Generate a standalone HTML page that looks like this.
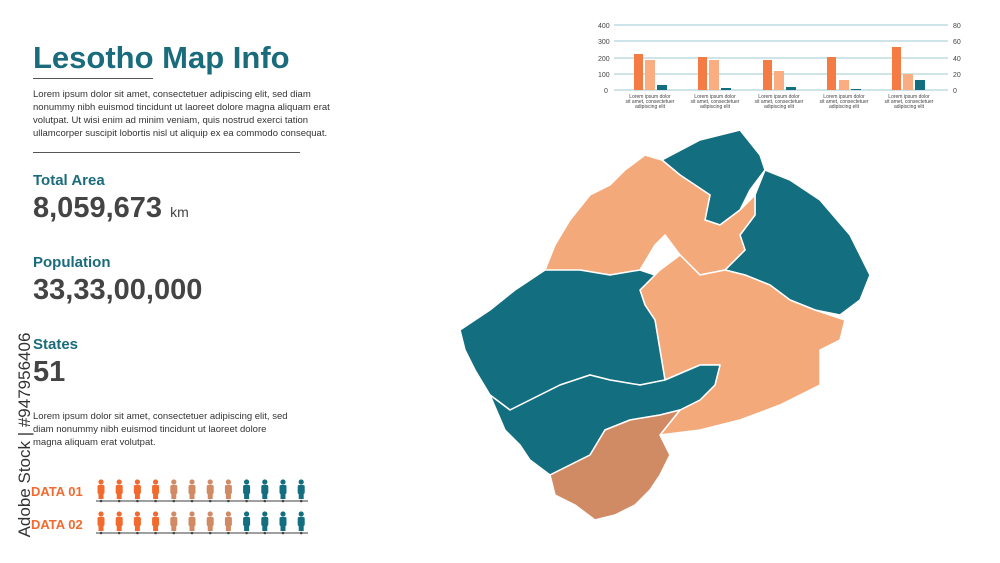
<!DOCTYPE html>
<html><head><style>
body{margin:0;width:1000px;height:563px;background:#fff;position:relative;overflow:hidden;font-family:"Liberation Sans",sans-serif;color:#333}
.a{position:absolute;margin:0}
</style></head><body>
<div class="a" style="left:33px;top:40px;font-size:31px;font-weight:bold;color:#1a6c7c">Lesotho Map Info</div>
<div class="a" style="left:33px;top:78px;width:120px;border-top:1px solid #555"></div>
<div class="a" style="left:33px;top:88px;width:300px;font-size:9.5px;line-height:13px;color:#333">Lorem ipsum dolor sit amet, consectetuer adipiscing elit, sed diam nonummy nibh euismod tincidunt ut laoreet dolore magna aliquam erat volutpat. Ut wisi enim ad minim veniam, quis nostrud exerci tation ullamcorper suscipit lobortis nisl ut aliquip ex ea commodo consequat.</div>
<div class="a" style="left:33px;top:152px;width:267px;border-top:1px solid #555"></div>
<div class="a" style="left:33px;top:172px;font-size:15px;font-weight:bold;color:#1a6c7c">Total Area</div>
<div class="a" style="left:33px;top:192px;font-size:29px;font-weight:bold;color:#444">8,059,673 <span style="font-size:14px;font-weight:normal">km</span></div>
<div class="a" style="left:33px;top:254px;font-size:15px;font-weight:bold;color:#1a6c7c">Population</div>
<div class="a" style="left:33px;top:274px;font-size:29px;font-weight:bold;color:#444">33,33,00,000</div>
<div class="a" style="left:33px;top:336px;font-size:15px;font-weight:bold;color:#1a6c7c">States</div>
<div class="a" style="left:33px;top:356px;font-size:29px;font-weight:bold;color:#444">51</div>
<div class="a" style="left:33px;top:410px;width:260px;font-size:9.5px;line-height:13px">Lorem ipsum dolor sit amet, consectetuer adipiscing elit, sed diam nonummy nibh euismod tincidunt ut laoreet dolore magna aliquam erat volutpat.</div>
<div class="a" style="left:31px;top:484px;font-size:13px;font-weight:bold;color:#f26a2e">DATA 01</div>
<div class="a" style="left:31px;top:517px;font-size:13px;font-weight:bold;color:#f26a2e">DATA 02</div>
<div class="a" style="left:-95px;top:425px;width:240px;transform:rotate(-90deg);font-size:17px;color:#333;text-align:center">Adobe Stock | #947956406</div>
<svg class="a" style="left:0;top:0" width="1000" height="563">
<g id="p">
<line x1="96" y1="501" x2="308" y2="501" stroke="#666" stroke-width="1.5"/>
</g>
<g font-family="Liberation Sans" font-size="7" fill="#444">
<g stroke="#9cc9d3" stroke-width="1">
<line x1="614" y1="25" x2="948" y2="25"/><line x1="614" y1="41" x2="948" y2="41"/><line x1="614" y1="58" x2="948" y2="58"/><line x1="614" y1="74" x2="948" y2="74"/><line x1="614" y1="90" x2="948" y2="90"/></g>
<text x="598" y="28">400</text><text x="598" y="44">300</text><text x="598" y="61">200</text><text x="598" y="77">100</text><text x="604" y="93">0</text>
<text x="953" y="28">80</text><text x="953" y="44">60</text><text x="953" y="61">40</text><text x="953" y="77">20</text><text x="953" y="93">0</text>
</g>
<g>
<rect x="634" y="54" width="9" height="36" fill="#f47c44"/><rect x="645" y="60" width="10" height="30" fill="#f9ad80"/><rect x="657" y="85" width="10" height="5" fill="#136e80"/>
<rect x="698" y="57" width="9" height="33" fill="#f47c44"/><rect x="709" y="60" width="10" height="30" fill="#f9ad80"/><rect x="721" y="88" width="10" height="2" fill="#136e80"/>
<rect x="763" y="60" width="9" height="30" fill="#f47c44"/><rect x="774" y="71" width="10" height="19" fill="#f9ad80"/><rect x="786" y="87" width="10" height="3" fill="#136e80"/>
<rect x="827" y="57" width="9" height="33" fill="#f47c44"/><rect x="839" y="80" width="10" height="10" fill="#f9ad80"/><rect x="851" y="89" width="10" height="1" fill="#136e80"/>
<rect x="892" y="47" width="9" height="43" fill="#f47c44"/><rect x="903" y="74" width="10" height="16" fill="#f9ad80"/><rect x="915" y="80" width="10" height="10" fill="#136e80"/>
</g>
<g font-family="Liberation Sans" font-size="5" fill="#444" text-anchor="middle">
<text x="650" y="98">Lorem ipsum dolor</text><text x="650" y="103">sit amet, consectetuer</text><text x="650" y="108">adipiscing elit</text>
<text x="715" y="98">Lorem ipsum dolor</text><text x="715" y="103">sit amet, consectetuer</text><text x="715" y="108">adipiscing elit</text>
<text x="779" y="98">Lorem ipsum dolor</text><text x="779" y="103">sit amet, consectetuer</text><text x="779" y="108">adipiscing elit</text>
<text x="844" y="98">Lorem ipsum dolor</text><text x="844" y="103">sit amet, consectetuer</text><text x="844" y="108">adipiscing elit</text>
<text x="909" y="98">Lorem ipsum dolor</text><text x="909" y="103">sit amet, consectetuer</text><text x="909" y="108">adipiscing elit</text>
</g>
<g stroke="#fff" stroke-width="1.5" stroke-linejoin="round">
<polygon fill="#136e80" points="662,160 700,140 740,130 760,155 765,170 750,190 740,210 720,225 705,220 710,195 695,185 680,175"/>
<polygon fill="#136e80" points="765,170 790,180 820,200 850,235 870,275 860,300 840,315 815,310 790,300 770,285 745,275 725,270 745,250 740,235 755,215 755,195"/>
<polygon fill="#f4a97a" points="545,270 555,245 570,220 590,195 610,185 625,170 645,155 662,160 680,175 695,185 710,195 705,220 720,225 740,210 755,195 755,215 740,235 745,250 725,270 700,275 680,255 665,235 655,245 640,270 610,275 580,270 560,275"/>
<polygon fill="#f4a97a" points="640,290 660,270 680,255 700,275 725,270 745,275 770,285 790,300 815,310 845,320 840,340 820,350 820,385 800,395 780,405 740,420 700,430 660,435 680,410 700,400 715,385 720,365 700,365 665,380 660,350 655,320 645,305"/>
<polygon fill="#136e80" points="460,330 490,310 515,290 545,270 580,270 610,275 640,270 655,275 640,290 645,305 655,320 660,350 665,380 640,385 610,380 590,375 560,385 530,400 510,410 490,395 475,370 465,350"/>
<polygon fill="#136e80" points="490,395 510,410 530,400 560,385 590,375 610,380 640,385 665,380 700,365 720,365 715,385 700,400 680,410 660,415 630,420 605,430 590,455 570,465 550,475 530,460 520,445 505,430"/>
<polygon fill="#d08b64" points="550,475 570,465 590,455 605,430 630,420 660,415 680,410 660,435 670,455 660,475 650,490 635,505 615,515 595,520 575,505 555,495"/>
</g>
<g id="ppl"></g>
</svg>
<script>
var g=document.getElementById('ppl'),s='';
var cols=['#f26a2e','#f26a2e','#f26a2e','#f26a2e','#d08b64','#d08b64','#d08b64','#d08b64','#136e80','#136e80','#136e80','#136e80'];
[490,522].forEach(function(y){
s+='<line x1="96" y1="'+(y+11)+'" x2="308" y2="'+(y+11)+'" stroke="#666" stroke-width="1.2"/>';
for(var i=0;i<12;i++){var x=101+i*18.2,c=cols[i];
s+='<circle cx="'+x+'" cy="'+(y-8)+'" r="2.6" fill="'+c+'"/><rect x="'+(x-3.5)+'" y="'+(y-5)+'" width="7" height="9" rx="1.5" fill="'+c+'"/><rect x="'+(x-2.5)+'" y="'+(y+3)+'" width="5" height="6" fill="'+c+'"/><circle cx="'+x+'" cy="'+(y+11)+'" r="1.3" fill="#444"/>';}
});
g.innerHTML=s;document.getElementById('p').innerHTML='';
</script>
</body></html>
